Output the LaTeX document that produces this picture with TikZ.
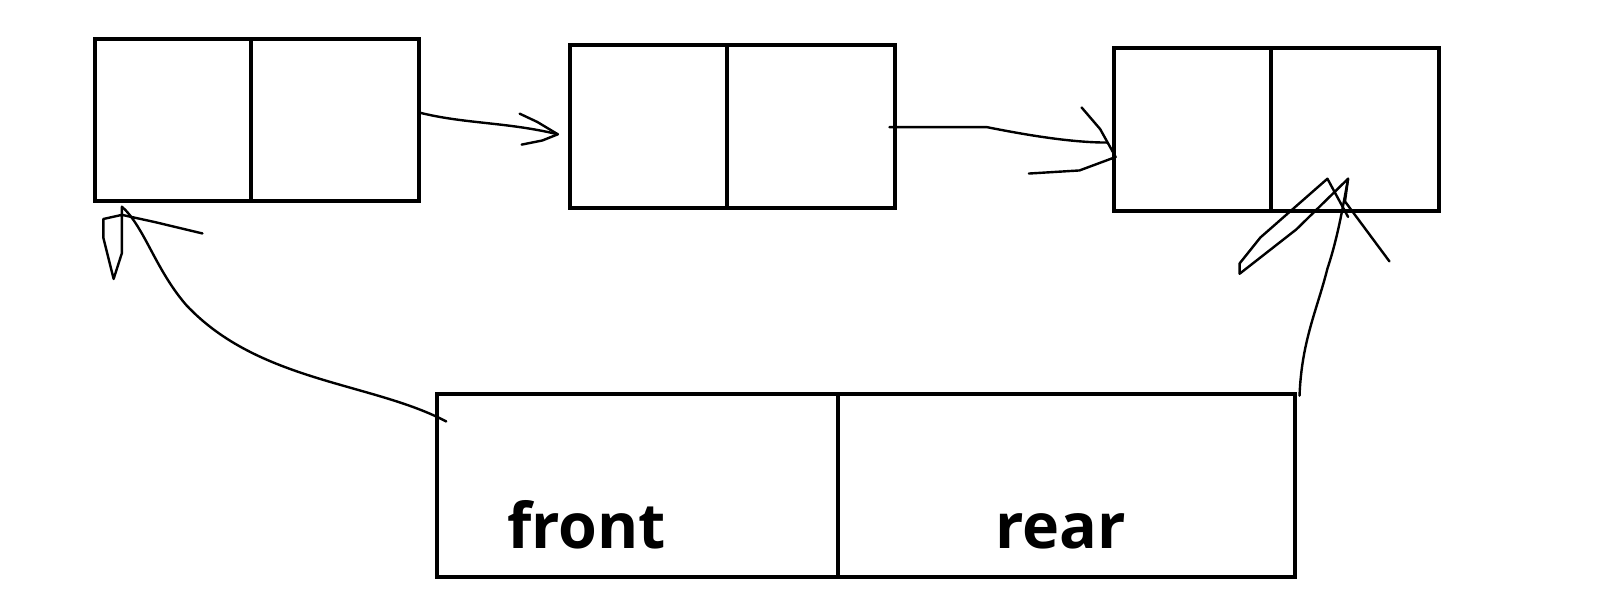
\documentclass[tikz,border=0pt]{standalone}
\usepackage{fontspec}
\setmainfont{Open Sans}
\begin{document}
\begin{tikzpicture}[x=1.033bp,y=-1.033bp,
 box/.style={draw,line width=4bp},
 hand/.style={line width=2.4bp,line join=round,line cap=round},
 lbl/.style={font=\fontsize{63}{63}\bfseries\selectfont,anchor=base}]
\useasboundingbox (0,0) rectangle (1566.3,586.6);
\draw[box] (92,38) rectangle (406,195); \draw[box] (243,38)--(243,195);
\draw[box] (552,44) rectangle (866,201); \draw[box] (704,44)--(704,201);
\draw[box] (1078,46) rectangle (1393,204); \draw[box] (1230,46)--(1230,204);
\draw[box] (423,381) rectangle (1254,559); \draw[box] (811,381)--(811,559);
\node[lbl] (f) at (568,531) {front};
\node[lbl] (r) at (1027,531) {rear};
\coordinate (a1s) at (406,109); \coordinate (a1e) at (540,130);
\draw[hand] (a1s) .. controls (450,120) and (490,118) .. (a1e);
\draw[hand] (503,110) -- (520,118) -- (a1e) -- (525,136) -- (505,140);
\coordinate (a2s) at (861,123); \coordinate (a2e) at (1080,152);
\draw[hand] (a2s) -- (955,123) .. controls (1000,132) and (1040,138) .. (1072,138);
\draw[hand] (1047,104) -- (1065,125) -- (a2e) -- (1045,165) -- (996,168);
\coordinate (a3s) at (432,408); \coordinate (a3e) at (118,200);
\draw[hand] (a3s) .. controls (360,370) and (250,370) .. (180,295) .. controls (150,260) and (140,220) .. (a3e);
\draw[hand] (118,200) -- (118,245) -- (110,270) -- (100,230) -- (100,212) -- (118,208) -- (150,215) -- (196,226);
\coordinate (a4s) at (1258,383); \coordinate (a4e) at (1305,173);
\draw[hand] (a4s) .. controls (1260,330) and (1275,300) .. (1285,260) .. controls (1295,230) and (1300,200) .. (a4e);
\draw[hand] (a4e) -- (1302,195) -- (1345,253);
\draw[hand] (a4e) -- (1255,222) -- (1200,265) -- (1200,255) -- (1220,230) -- (1285,173) -- (1305,210);
\end{tikzpicture}
\end{document}
